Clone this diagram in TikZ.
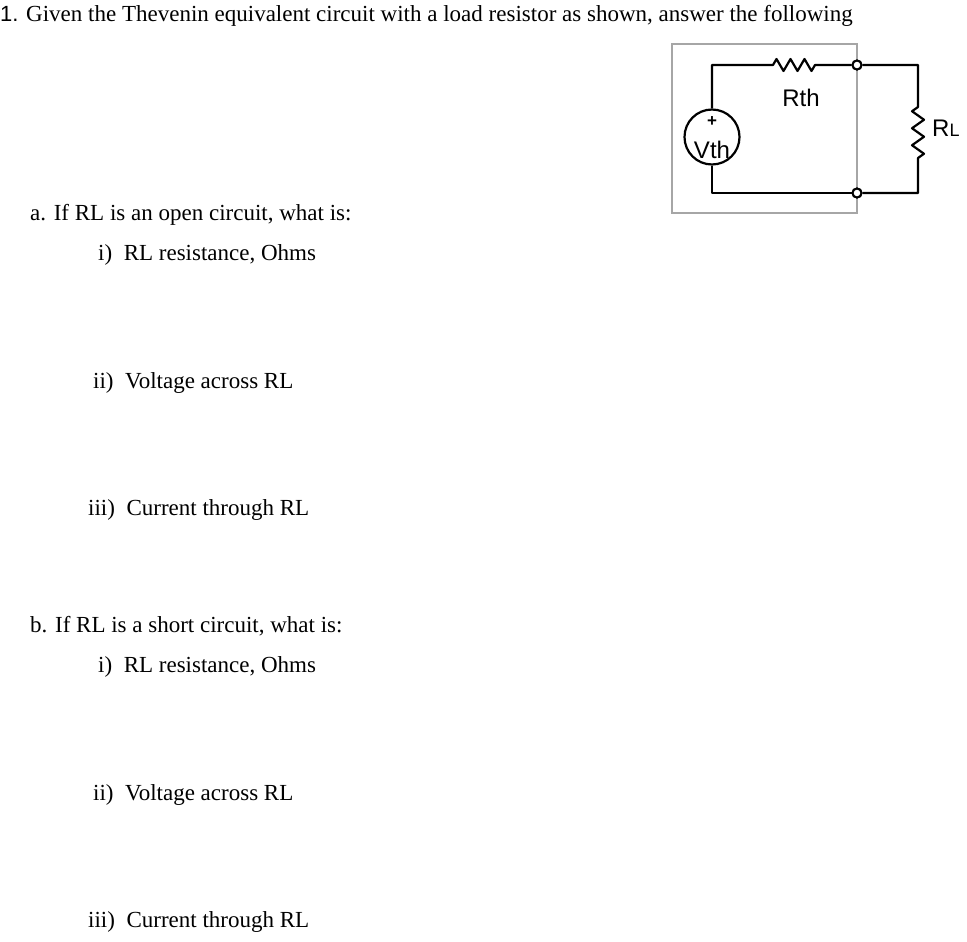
\documentclass[tikz,border=0pt]{standalone}
\usepackage{fontspec}
\setmainfont{Liberation Serif}
\newfontfamily\arial{Liberation Sans}
\usetikzlibrary{calc}
\begin{document}
\begin{tikzpicture}[x=1pt,y=-1pt,
  txt/.style={anchor=base west,inner sep=0pt,font=\fontsize{23}{27}\selectfont},
  lbl/.style={inner sep=0pt,font=\arial\fontsize{24}{28}\selectfont},
  wire/.style={line width=2.2pt,line join=round},
  term/.style={circle,draw,line width=2pt,fill=white,minimum size=9pt,inner sep=0pt}]
\useasboundingbox (0,0) rectangle (967,942);
\node[txt] (t0) at (0,22) {{\arial\fontsize{22}{26}\selectfont 1.} Given the Thevenin equivalent circuit with a load resistor as shown, answer the following};
\node[txt] (a) at (30,220) {a. If RL is an open circuit, what is:};
\node[txt] (a1) at (98,260) {i)\ \ RL resistance, Ohms};
\node[txt] (a2) at (93,388) {ii)\ \ Voltage across RL};
\node[txt] (a3) at (88,515) {iii)\ \ Current through RL};
\node[txt] (b) at (30,632) {b. If RL is a short circuit, what is:};
\node[txt] (b1) at (98,672) {i)\ \ RL resistance, Ohms};
\node[txt] (b2) at (93,800) {ii)\ \ Voltage across RL};
\node[txt] (b3) at (88,927) {iii)\ \ Current through RL};
% box
\draw[gray!70,line width=1.2pt] (672,44) rectangle (857,213);
% source
\node[circle,draw,line width=2.2pt,minimum size=55pt,inner sep=0pt] (src) at (712,137) {};
\node[lbl] (vth) at (712,150) {Vth};
\node[lbl,font=\arial\bfseries\fontsize{17}{17}\selectfont] (plus) at (712,122) {+};
\coordinate (tl) at (712,65);
\coordinate (bl) at (712,193);
\coordinate (r1) at (773,65);
\coordinate (r2) at (815,65);
\node[term] (ta) at (857,65) {};
\node[term] (tb) at (857,193) {};
\coordinate (tr) at (918,65);
\coordinate (br) at (918,193);
\coordinate (l1) at (918,107);
\coordinate (l2) at (918,158);
\draw[wire] (src.north) -- (tl) -- (r1)
  -- ++(3.5,-6) -- ++(7,12) -- ++(7,-12) -- ++(7,12) -- ++(7,-12) -- ++(7,12) -- ++(3.5,-6) -- (ta);
\draw[wire] (ta) -- (tr) -- (l1)
  -- ++(-6,4.25) -- ++(12,8.5) -- ++(-12,8.5) -- ++(12,8.5) -- ++(-12,8.5) -- ++(12,8.5) -- ++(-6,4.25) -- (br) -- (tb);
\draw[wire] (src.south) -- (bl) -- (tb);
\node[term] at (857,65) {};
\node[term] at (857,193) {};
\node[lbl] (rth) at (801,98) {Rth};
\node[lbl,anchor=west] (rl) at (932,128) {R{\fontsize{18}{18}\selectfont L}};
\end{tikzpicture}
\end{document}
